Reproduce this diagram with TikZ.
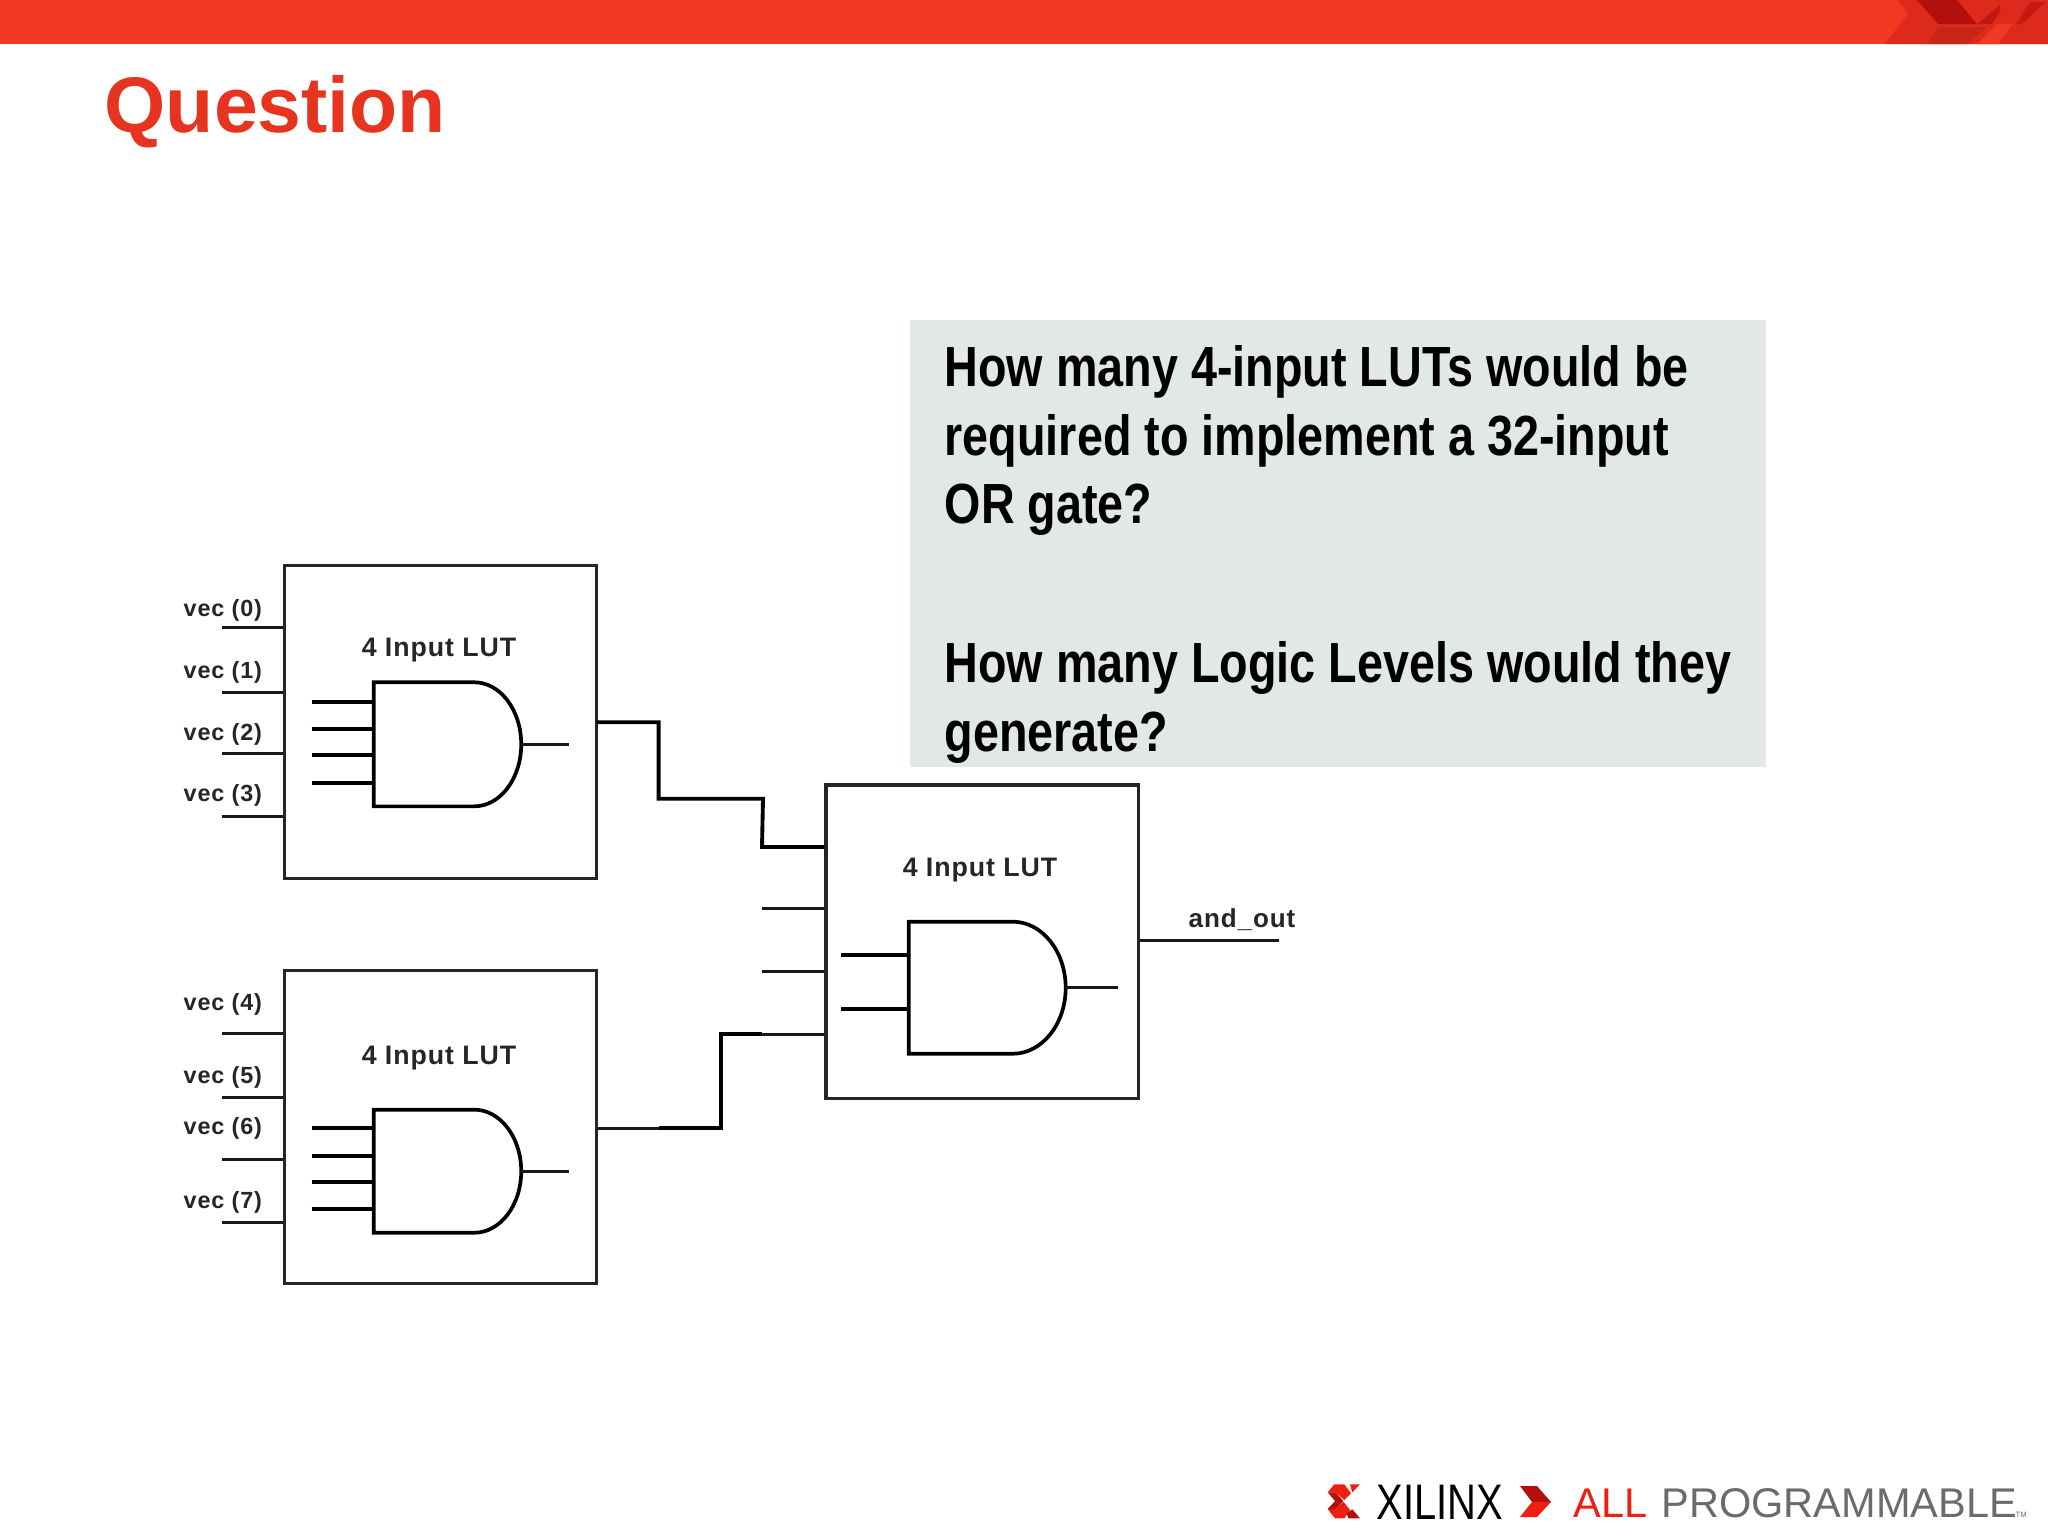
\documentclass[tikz,border=0pt]{standalone}
\usepackage{fontspec}
\setmainfont{Liberation Sans}
\newfontfamily\boxfont[FakeStretch=0.825]{Liberation Sans}
\newfontfamily\logofont[FakeStretch=0.80]{Liberation Sans}
\newfontfamily\lutfont[LetterSpace=3.5]{Liberation Sans}
\usetikzlibrary{positioning}
\definecolor{xred}{HTML}{F23722}
\definecolor{xdark}{HTML}{B30F0B}
\definecolor{xmid}{HTML}{DE2A1C}
\definecolor{xgrey}{HTML}{E2E7E8}
\definecolor{xtext}{HTML}{6A6B6D}
\definecolor{xlogo}{HTML}{EE1F11}
\tikzset{
  lutbox/.style={draw=black!85, line width=0.9pt, minimum width=3.12cm, minimum height=3.13cm, inner sep=0pt},
  gatebox/.style={inner sep=0pt, outer sep=0pt, minimum width=1.475cm},
  gateline/.style={draw=black, line width=1.05pt, line join=miter},
  wire/.style={black!90, line width=0.85pt},
  thickwire/.style={black, line width=1.1pt, line join=miter},
  veclabel/.style={inner sep=0pt, anchor=base west, font=\fontsize{6.65pt}{8pt}\lutfont\bfseries, text=black!85},
  lutlabel/.style={inner sep=0pt, anchor=base, font=\fontsize{7.6pt}{9pt}\lutfont\bfseries, text=black!85},
  asktext/.style={inner sep=0pt, anchor=base west, font=\fontsize{16.1pt}{19pt}\boxfont\bfseries},
  logotext/.style={inner sep=0pt, anchor=base west}
}
\begin{document}
\begin{tikzpicture}[x=0.01cm, y=-0.01cm]
\useasboundingbox (0,0) rectangle (2048,1536);
\fill[white] (0,0) rectangle (2048,1536);

%Banner
\fill[xred] (0,0) rectangle (2048,44);
\fill[xmid] (1898,0) -- (1908,14) -- (1885,44) -- (2048,44) -- (2048,0) -- cycle;
\fill[xdark] (1917,0) -- (1957,0) -- (1977,24) -- (1938,24) -- cycle;
\fill[black!10!xmid] (1938,27) -- (1987,27) -- (1967,44) -- (1928,44) -- cycle;
\fill[xred] (1997,24) -- (2013,24) -- (1998,44) -- (1977,44) -- cycle;
\fill[xdark!60!xmid] (2030,2) -- (2046,2) -- (2022,24) -- (2016,24) -- cycle;
\fill[xdark!70!xmid] (1977,24) -- (2000,5) -- (2000,12) -- (1992,24) -- cycle;
\node[inner sep=0pt, anchor=base west, text=xred!95!black, font=\fontsize{22.4pt}{26pt}\bfseries] (title) at (104,132) {Question};

%Question box
\fill[xgrey] (910,320) rectangle (1766,767);
\node[asktext] (askA) at (944,386.7) {How many 4-input LUTs would be};
\node[asktext] (askB) at (944,455) {required to implement a 32-input};
\node[asktext] (askC) at (944,523.3) {OR gate?};
\node[asktext] (askD) at (944,682.7) {How many Logic Levels would they};
\node[asktext] (askE) at (944,751.7) {generate?};

%LUTs
\node[lutbox] (lutA) at (440.5,722) {};
\node[lutbox] (lutB) at (440.5,1127) {};
\node[lutbox] (lutC) at (982,941.5) {};
\node[lutlabel] (nameA) at (439,656.7) {4 Input LUT};
\node[lutlabel] (nameB) at (439,1064) {4 Input LUT};
\node[lutlabel] (nameC) at (980,876) {4 Input LUT};

%Gates
\node[gatebox, minimum height=1.24cm] (gateA) at (447.5,744.3) {};
\node[gatebox, minimum height=1.23cm] (gateB) at (447.5,1171.2) {};
\node[gatebox, minimum width=1.57cm, minimum height=1.32cm] (gateC) at (987.2,987.7) {};
\draw[gateline] (gateA.north west) -- ++(100.5,0) arc[start angle=90, end angle=-90, x radius=0.47cm, y radius=0.62cm] -- (gateA.south west) -- cycle;
\draw[gateline] (gateB.north west) -- ++(100.5,0) arc[start angle=90, end angle=-90, x radius=0.47cm, y radius=0.615cm] -- (gateB.south west) -- cycle;
\draw[gateline] (gateC.north west) -- ++(104,0) arc[start angle=90, end angle=-90, x radius=0.53cm, y radius=0.66cm] -- (gateC.south west) -- cycle;
\coordinate (outA) at (569,744.3);
\coordinate (outB) at (569,1171.2);
\coordinate (outC) at (1118,987.7);
\draw[wire] (gateA.east) -- (outA);
\draw[wire] (gateB.east) -- (outB);
\draw[wire] (gateC.east) -- (outC);

%Gate inputs
\foreach \n/\ypos in {1/701.7, 2/729.3, 3/754.7, 4/782.7} {
  \coordinate (inA\n) at (311.5,\ypos);
  \draw[thickwire] (inA\n) -- (inA\n -| gateA.west);
}
\foreach \n/\ypos in {1/1128.3, 2/1156, 3/1181.7, 4/1209.3} {
  \coordinate (inB\n) at (311.5,\ypos);
  \draw[thickwire] (inB\n) -- (inB\n -| gateB.west);
}
\foreach \n/\ypos in {1/955.3, 2/1008.7} {
  \coordinate (inC\n) at (841,\ypos);
  \draw[thickwire] (inC\n) -- (inC\n -| gateC.west);
}

%Inputs
\foreach \n/\ypos/\ytxt in {0/627.7/616.7, 1/692/678.3, 2/753.7/740, 3/816/801.7} {
  \coordinate (vec\n) at (222,\ypos);
  \draw[wire] (vec\n) -- (vec\n -| lutA.west);
  \node[veclabel] (label\n) at (183,\ytxt) {vec (\n)};
}
\foreach \n/\ypos/\ytxt in {4/1033.3/1010.7, 5/1097.3/1083.3, 6/1159.7/1134, 7/1222/1208.3} {
  \coordinate (vec\n) at (222,\ypos);
  \draw[wire] (vec\n) -- (vec\n -| lutB.west);
  \node[veclabel] (label\n) at (183,\ytxt) {vec (\n)};
}
\foreach \n/\ypos in {1/847, 2/908.7, 3/971, 4/1034} {
  \coordinate (stub\n) at (762,\ypos);
}
\draw[wire] (stub2) -- (stub2 -| lutC.west);
\draw[wire] (stub3) -- (stub3 -| lutC.west);

%Connections
\coordinate (fromA) at (596.5,722.3);
\coordinate (fromB) at (596.5,1128.3);
\coordinate (bendB) at (658.6,1128.3);
\draw[thickwire] (fromA) -- (658.6,722.3) -- (658.6,798.7) -- (763,798.7) -- (stub1) -- (stub1 -| lutC.west);
\draw[wire] (fromB) -- (bendB);
\draw[thickwire] (bendB) -- (720.7,1128.3) -- (720.7,1034) -- (stub4);
\draw[wire] (stub4) -- (stub4 -| lutC.west);
\coordinate (andout) at (1279.4,940.7);
\draw[wire] (andout -| lutC.east) -- (andout);
\node[veclabel, font=\fontsize{7.4pt}{9pt}\lutfont\bfseries] (outlabel) at (1188,927.3) {and\_out};

%Logo
\fill[xlogo] (1334.3,1484.3) -- (1344.3,1484.3) -- (1351,1493.3) -- (1344.3,1500) -- (1335.7,1492.3) -- (1327.7,1492.3) -- cycle;
\fill[xdark] (1327.7,1492.3) -- (1335.7,1492.3) -- (1343.3,1501) -- (1335.7,1509) -- (1327.7,1509) -- (1335,1501) -- cycle;
\fill[xlogo] (1327.7,1509) -- (1335.7,1509) -- (1343.3,1501.7) -- (1350,1510) -- (1344.3,1518.3) -- (1335,1518.3) -- cycle;
\fill[xlogo] (1350,1484.3) -- (1360,1484.3) -- (1352.3,1492.3) -- cycle;
\fill[xdark] (1352.3,1509.3) -- (1360,1518.3) -- (1348.3,1518.3) -- (1346.7,1513.3) -- cycle;
\node[logotext, font=\fontsize{14.2pt}{16pt}\logofont] (xilinx) at (1376,1519) {XILINX};
\fill[xdark] (1520,1486) -- (1537,1486) -- (1551,1502) -- (1532,1502) -- cycle;
\fill[xlogo] (1532,1502) -- (1551,1502) -- (1537,1517) -- (1520,1517) -- cycle;
\node[logotext, text=xlogo, font=\fontsize{11.8pt}{14pt}\selectfont] (allword) at (1573,1517) {ALL};
\node[logotext, text=xtext, font=\fontsize{11.8pt}{14pt}\selectfont] (progword) at (1661,1517) {PROGRAMMABLE};
\node[logotext, text=xtext, font=\fontsize{2.2pt}{3pt}\selectfont] (tmark) at (2015,1517) {TM};

\end{tikzpicture}
\end{document}
